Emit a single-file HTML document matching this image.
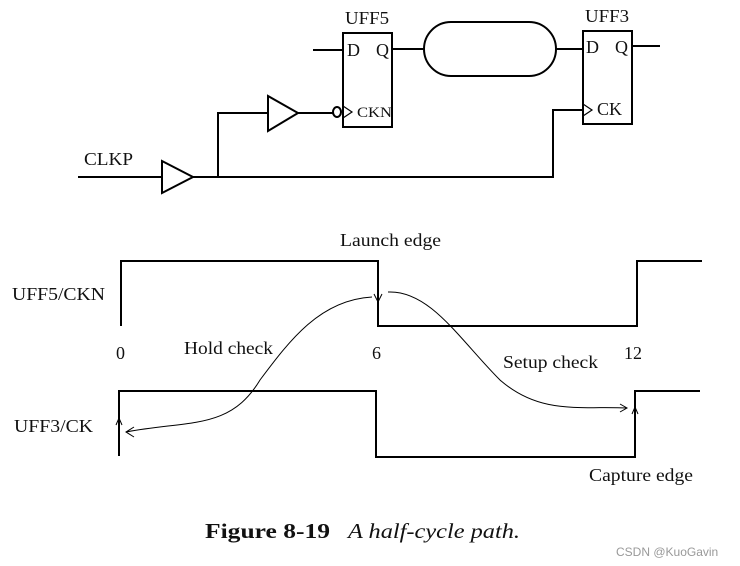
<!DOCTYPE html>
<html><head><meta charset="utf-8"><style>
html,body{margin:0;padding:0;background:#fff}
svg{display:block}
text{font-family:"Liberation Serif",serif;fill:#111}
</style></head><body>
<svg width="740" height="566" viewBox="0 0 740 566">
<g fill="none" stroke="#000" stroke-width="2">
<rect x="343" y="33" width="49" height="94"/>
<line x1="313" y1="50" x2="343" y2="50"/>
<line x1="392" y1="49" x2="424" y2="49"/>
<rect x="424" y="22" width="132" height="54" rx="27"/>
<line x1="556" y1="49" x2="583" y2="49"/>
<rect x="583" y="31" width="49" height="93"/>
<line x1="632" y1="46" x2="660" y2="46"/>
<line x1="78" y1="177" x2="162" y2="177"/>
<polygon points="162,161 162,193 193,177"/>
<polyline points="193,177 553,177 553,110 583,110"/>
<polyline points="218,177 218,113 268,113"/>
<polygon points="268,96 268,131 298,113"/>
<line x1="298" y1="113" x2="333" y2="113"/>
<ellipse cx="337" cy="112" rx="4" ry="5"/>
</g>
<g fill="none" stroke="#000" stroke-width="1.2">
<polyline points="343,106 352,112 343,118"/>
<polyline points="583,104 592,110 583,116"/>
</g>
<text x="345" y="24" font-size="18" textLength="44" lengthAdjust="spacingAndGlyphs">UFF5</text>
<text x="347" y="56" font-size="18">D</text>
<text x="376" y="56" font-size="18">Q</text>
<text x="357" y="117" font-size="15" textLength="35" lengthAdjust="spacingAndGlyphs">CKN</text>
<text x="585" y="22" font-size="18" textLength="44" lengthAdjust="spacingAndGlyphs">UFF3</text>
<text x="586" y="53" font-size="18">D</text>
<text x="615" y="53" font-size="18">Q</text>
<text x="597" y="115" font-size="18">CK</text>
<text x="84" y="165" font-size="18" textLength="49" lengthAdjust="spacingAndGlyphs">CLKP</text>
<g fill="none" stroke="#000" stroke-width="2">
<polyline points="121,326 121,261 378,261 378,326 637,326 637,261 702,261"/>
<polyline points="119,456 119,391 376,391 376,457 635,457 635,391 700,391"/>
</g>
<g fill="none" stroke="#000" stroke-width="1">
<path d="M372,297 C320,300 290,340 260,380 C230,430 190,420 126,432"/>
<polyline points="134,427 126,432 134,437"/>
<path d="M388,292 C430,290 460,340 500,380 C540,415 580,406 627,408"/>
<polyline points="620,404 627,408 620,412"/>
<polyline points="374,294 378,302 382,294"/>
<polyline points="116,425 119,418 122,425"/>
<polyline points="632,414 635,407 638,414"/>
</g>
<text x="340" y="246" font-size="18" textLength="101" lengthAdjust="spacingAndGlyphs">Launch edge</text>
<text x="12" y="300" font-size="18" textLength="93" lengthAdjust="spacingAndGlyphs">UFF5/CKN</text>
<text x="116" y="359" font-size="18">0</text>
<text x="372" y="359" font-size="18">6</text>
<text x="624" y="359" font-size="18">12</text>
<text x="184" y="354" font-size="18" textLength="89" lengthAdjust="spacingAndGlyphs">Hold check</text>
<text x="503" y="368" font-size="18" textLength="95" lengthAdjust="spacingAndGlyphs">Setup check</text>
<text x="14" y="432" font-size="18" textLength="79" lengthAdjust="spacingAndGlyphs">UFF3/CK</text>
<text x="589" y="481" font-size="18" textLength="104" lengthAdjust="spacingAndGlyphs">Capture edge</text>
<text x="205" y="538" font-size="21" font-weight="bold" textLength="125" lengthAdjust="spacingAndGlyphs">Figure 8-19</text>
<text x="348" y="538" font-size="21" font-style="italic" textLength="172" lengthAdjust="spacingAndGlyphs">A half-cycle path.</text>
<text x="616" y="556" font-size="12" style="font-family:'Liberation Sans',sans-serif;fill:#999">CSDN @KuoGavin</text>
</svg>
</body></html>
